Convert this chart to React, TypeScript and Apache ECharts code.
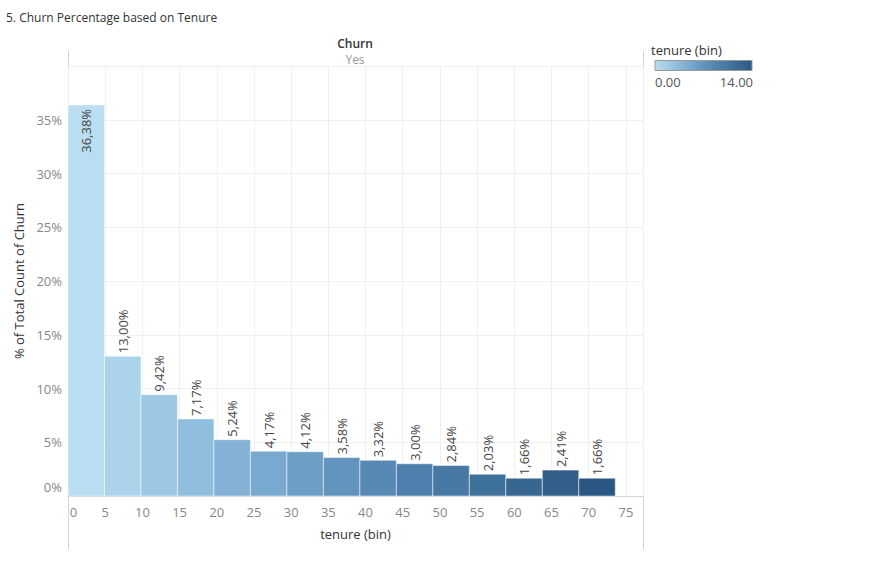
import React, { useEffect, useRef } from "react";
import * as echarts from "echarts";

// ---- data ----
const binStarts = [0, 5, 10, 15, 20, 25, 30, 35, 40, 45, 50, 55, 60, 65, 70];
const churnPct = [36.38, 13.0, 9.42, 7.17, 5.24, 4.17, 4.12, 3.58, 3.32, 3.0, 2.84, 2.03, 1.66, 2.41, 1.66];
const tenureBin = [0, 1, 2, 3, 4, 5, 6, 7, 8, 9, 10, 11, 12, 13, 14];
const xTicks = [0, 5, 10, 15, 20, 25, 30, 35, 40, 45, 50, 55, 60, 65, 70, 75];
const yTicks = [0, 5, 10, 15, 20, 25, 30, 35];
const binSize = 5;

const blues = [
  "#b9ddf1", "#afd6ed", "#a5cfe9", "#9bc7e4", "#92c0df", "#89b8da", "#80b0d5",
  "#79aacf", "#72a3c9", "#6a9bc3", "#6394be", "#5b8cb8", "#5485b2", "#4e7fac",
  "#4878a6", "#437a9f", "#3d6f98", "#376792", "#34628c", "#305d86", "#2a5783",
];

const FONT = "'Open Sans', 'Noto Sans', sans-serif";

export default function App() {
  const ref = useRef<HTMLDivElement>(null);

  useEffect(() => {
    if (!ref.current) return;
    const chart = echarts.init(ref.current, undefined, { renderer: "svg" });
    const data = binStarts.map((b, i) => [b, churnPct[i], tenureBin[i]]);

    const gridLeft = 68;
    const gridRight = 643;
    const gridTop = 66;
    const gridBottom = 496;

    chart.setOption({
      animation: false,
      backgroundColor: "#ffffff",
      textStyle: { fontFamily: FONT },
      grid: { left: gridLeft, right: 871 - gridRight, top: gridTop, bottom: 568 - gridBottom, containLabel: false },
      visualMap: {
        show: false,
        type: "continuous",
        dimension: 2,
        min: 0,
        max: 14,
        seriesIndex: 0,
        inRange: { color: blues },
      },
      xAxis: [
        {
          type: "value",
          min: 0,
          max: 77.3,
          interval: 5,
          name: "tenure (bin)",
          nameLocation: "middle",
          nameGap: 31,
          nameTextStyle: { fontSize: 13, color: "#333", fontFamily: FONT, fontWeight: 500 },
          axisLine: { show: true, lineStyle: { color: "#d4d4d4" } },
          axisTick: { show: false },
          splitLine: { show: true, lineStyle: { color: "#f0f0f0" } },
          axisLabel: {
            fontSize: 13,
            color: "#888",
            margin: 9,
            fontFamily: FONT,
            formatter: (v: number) => {
              if (!xTicks.includes(v)) return "";
              return v === 0 ? "{z|0}" : String(v);
            },
            rich: { z: { padding: [0, 0, 0, 11], fontSize: 13, color: "#888", fontFamily: FONT } },
          },
        },
        {
          type: "value",
          min: 0,
          max: 78.8,
          show: false,
          splitLine: { show: false },
        },
      ],
      yAxis: {
        type: "value",
        min: 0,
        max: 40,
        interval: 5,
        name: "% of Total Count of Churn",
        nameLocation: "middle",
        nameGap: 42,
        nameTextStyle: { fontSize: 13, color: "#333", fontFamily: FONT, fontWeight: 500 },
        axisLine: { show: false },
        axisTick: { show: false },
        splitLine: { show: true, lineStyle: { color: "#f0f0f0" } },
        axisLabel: {
          fontSize: 13,
          color: "#888",
          margin: 6,
          fontFamily: FONT,
          formatter: (v: number) => {
            if (!yTicks.includes(v)) return "";
            return v === 0 ? "{z|0%}" : v + "%";
          },
          rich: { z: { padding: [0, 0, 18, 0], fontSize: 13, color: "#888", fontFamily: FONT } },
        },
      },
      series: [
        {
          type: "custom",
          xAxisIndex: 1,
          yAxisIndex: 0,
          encode: { x: 0, y: 1 },
          data,
          renderItem: (params: any, api: any) => {
            const start = api.value(0);
            const val = api.value(1);
            const p0 = api.coord([start, val]);
            const p1 = api.coord([start + binSize, 0]);
            const color = api.visual("color");
            const cx = (p0[0] + p1[0]) / 2;
            const top = p0[1];
            const inside = top - params.coordSys.y < 52;
            const text = val.toFixed(2).replace(".", ",") + "%";
            return {
              type: "group",
              children: [
                {
                  type: "rect",
                  shape: { x: p0[0], y: p0[1], width: p1[0] - p0[0], height: p1[1] - p0[1] },
                  style: { fill: color, stroke: "rgba(255,255,255,0.5)", lineWidth: 1 },
                },
                {
                  type: "text",
                  x: cx,
                  y: inside ? top + 4 : top - 3,
                  rotation: Math.PI / 2,
                  style: {
                    text,
                    align: inside ? "right" : "left",
                    verticalAlign: "middle",
                    fontSize: 13,
                    fill: "#444",
                    fontFamily: FONT,
                  },
                },
              ],
            };
          },
        },
      ],
      graphic: [
        {
          type: "text",
          x: 6,
          y: 17,
          style: { text: "5. Churn Percentage based on Tenure", fontSize: 12, fill: "#333", fontFamily: FONT, verticalAlign: "middle" },
        },
        {
          type: "text",
          x: 355,
          y: 43,
          style: { text: "Churn", fontSize: 12, lineHeight: 12, fill: "#333", fontFamily: FONT, fontWeight: 600, align: "center", verticalAlign: "middle" },
        },
        {
          type: "text",
          x: 355,
          y: 59.5,
          style: { text: "Yes", fontSize: 12, lineHeight: 12, fill: "#999", fontFamily: FONT, align: "center", verticalAlign: "middle" },
        },
        {
          type: "line",
          shape: { x1: gridLeft + 0.5, y1: 51, x2: gridLeft + 0.5, y2: 549 },
          style: { stroke: "#d4d4d4", lineWidth: 1 },
        },
        {
          type: "line",
          shape: { x1: gridRight + 0.5, y1: 51, x2: gridRight + 0.5, y2: 549 },
          style: { stroke: "#d4d4d4", lineWidth: 1 },
        },
        {
          type: "line",
          shape: { x1: gridLeft, y1: gridTop + 0.5, x2: gridRight, y2: gridTop + 0.5 },
          style: { stroke: "#d4d4d4", lineWidth: 1 },
        },
        {
          type: "text",
          x: 651,
          y: 50,
          style: { text: "tenure (bin)", fontSize: 13, fill: "#333", fontFamily: FONT, fontWeight: 500, verticalAlign: "middle" },
        },
        {
          type: "rect",
          shape: { x: 655, y: 60.5, width: 97, height: 10 },
          style: {
            fill: new echarts.graphic.LinearGradient(0, 0, 1, 0, [
              { offset: 0, color: blues[0] },
              { offset: 0.5, color: blues[10] },
              { offset: 1, color: blues[20] },
            ]),
            stroke: "#999",
            lineWidth: 1,
          },
        },
        {
          type: "text",
          x: 655,
          y: 82,
          style: { text: "0.00", fontSize: 13, fill: "#555", fontFamily: FONT, verticalAlign: "middle" },
        },
        {
          type: "text",
          x: 753,
          y: 82,
          style: { text: "14.00", fontSize: 13, fill: "#555", fontFamily: FONT, align: "right", verticalAlign: "middle" },
        },
      ],
    });

    return () => chart.dispose();
  }, []);

  return <div ref={ref} style={{ width: 871, height: 568, position: "absolute", left: 0, top: 0 }} />;
}
